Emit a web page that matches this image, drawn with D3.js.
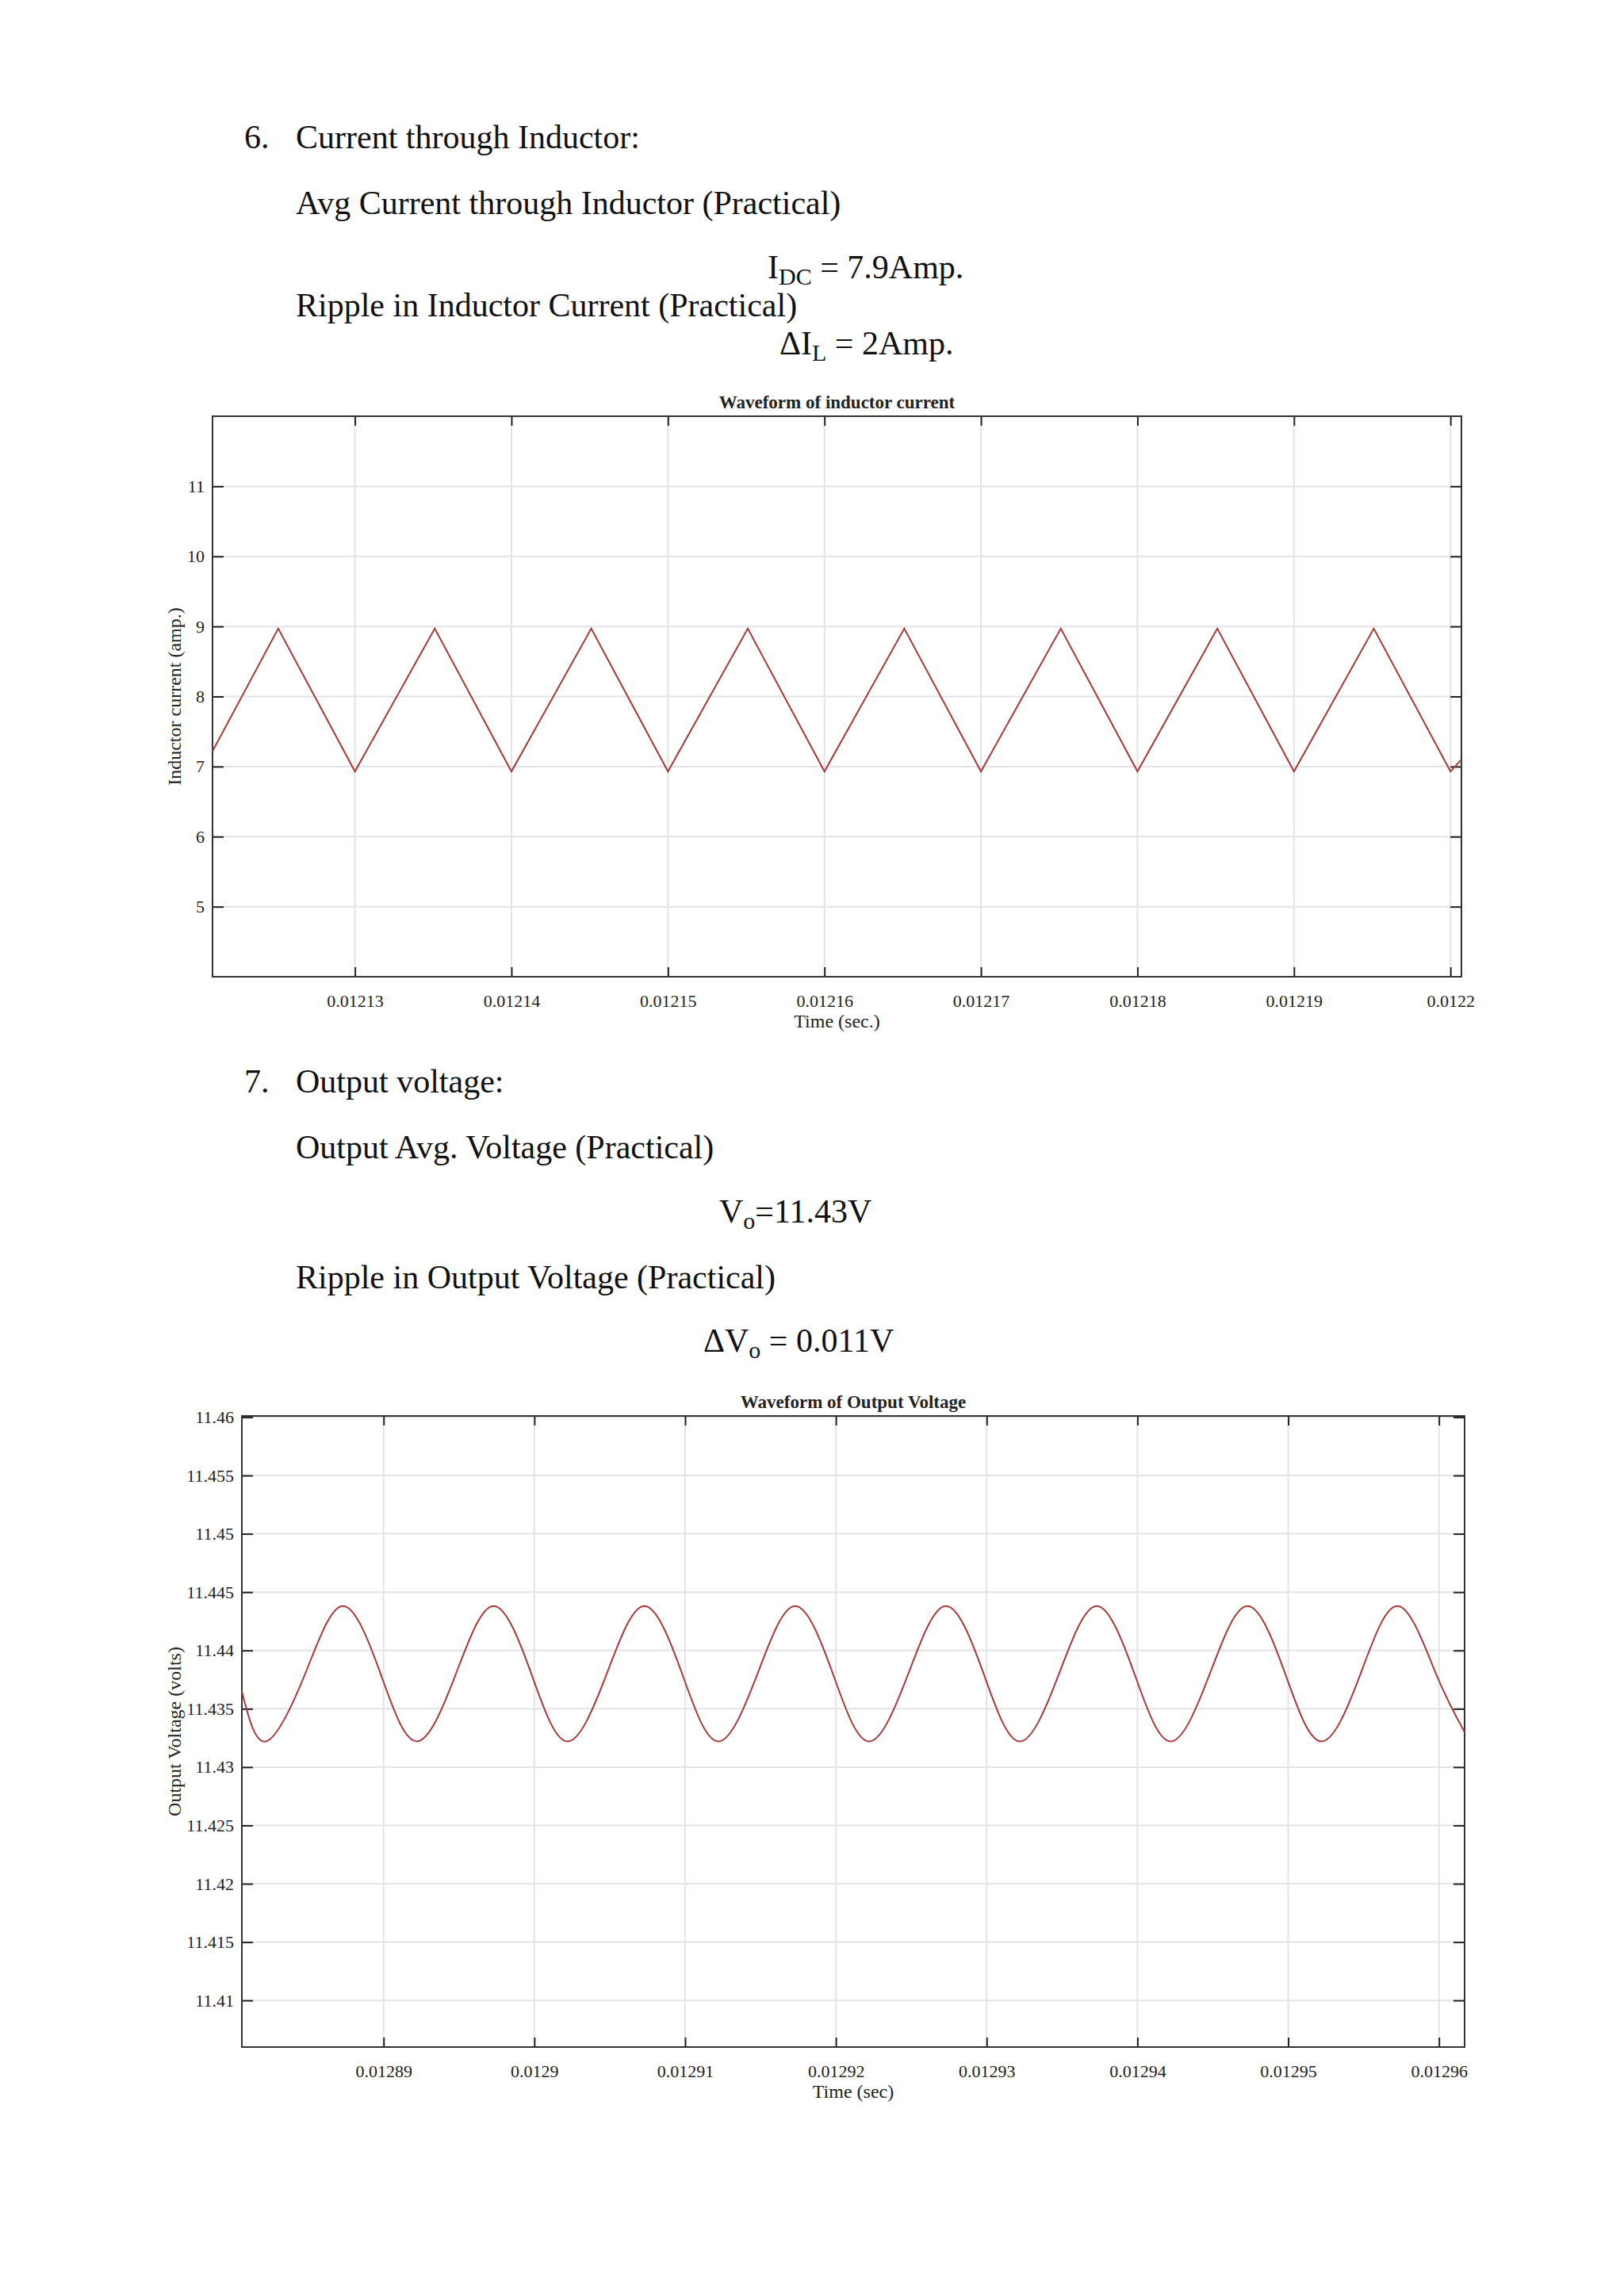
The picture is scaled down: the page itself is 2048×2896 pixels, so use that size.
<!DOCTYPE html>
<html><head><meta charset="utf-8">
<script src="https://cdn.jsdelivr.net/npm/d3@7"></script>
<style>body{margin:0;background:#fff}text{font-family:"Liberation Serif","Times New Roman",serif}</style>
</head><body>
<svg id="s" width="2048" height="2896"></svg>
<script>
// Chart 1: inductor current vertices (time s, current A)
const iTime = [0.0121209,0.0121251,0.01213,0.0121351,0.01214,0.0121451,0.01215,0.0121551,0.01216,0.0121651,0.01217,0.0121751,0.01218,0.0121851,0.01219,0.0121951,0.0122,0.0122007];
const iVal  = [7.22,8.97,6.93,8.97,6.93,8.97,6.93,8.97,6.93,8.97,6.93,8.97,6.93,8.97,6.93,8.97,6.93,7.10];
const iXTicks = [0.01213,0.01214,0.01215,0.01216,0.01217,0.01218,0.01219,0.0122];
const iXLabels = ["0.01213","0.01214","0.01215","0.01216","0.01217","0.01218","0.01219","0.0122"];
const iYTicks = [5,6,7,8,9,10,11];
// Chart 2: output voltage samples (quarter periods)
const vTime = [0.0128806,0.0128822,0.0128848,0.0128873,0.0128898,0.0128922,0.0128948,0.0128973,0.0128998,0.0129022,0.0129048,0.0129073,0.0129098,0.0129122,0.0129148,0.0129173,0.0129198,0.0129222,0.0129248,0.0129273,0.0129298,0.0129322,0.0129348,0.0129373,0.0129398,0.0129422,0.0129448,0.0129473,0.0129498,0.0129522,0.0129548,0.0129573,0.0129598,0.0129617];
const vVal  = [11.4365,11.4322,11.4380,11.4438,11.4380,11.4322,11.4380,11.4438,11.4380,11.4322,11.4380,11.4438,11.4380,11.4322,11.4380,11.4438,11.4380,11.4322,11.4380,11.4438,11.4380,11.4322,11.4380,11.4438,11.4380,11.4322,11.4380,11.4438,11.4380,11.4322,11.4380,11.4438,11.4380,11.4330];
const vXTicks = [0.01289,0.0129,0.01291,0.01292,0.01293,0.01294,0.01295,0.01296];
const vXLabels = ["0.01289","0.0129","0.01291","0.01292","0.01293","0.01294","0.01295","0.01296"];
const vYTicks = [11.41,11.415,11.42,11.425,11.43,11.435,11.44,11.445,11.45,11.455,11.46];
const vYLabels = ["11.41","11.415","11.42","11.425","11.43","11.435","11.44","11.445","11.45","11.455","11.46"];

const svg = d3.select("#s");
function txt(x,y,s,size){return svg.append("text").attr("x",x).attr("y",y).attr("font-size",size||42).attr("fill","#111").text(s);}
function sub(x,y,main,subs,rest){const t=svg.append("text").attr("x",x).attr("y",y).attr("font-size",42).attr("fill","#111");
  t.append("tspan").text(main);t.append("tspan").attr("font-size",30).attr("dy",8).text(subs);t.append("tspan").attr("dy",-8).text(rest);}

txt(308,187,"6.");txt(373,187,"Current through Inductor:");
txt(373,270,"Avg Current through Inductor (Practical)");
sub(968,351,"I","DC"," = 7.9Amp.");
txt(373,399,"Ripple in Inductor Current (Practical)");
sub(983,447,"ΔI","L"," = 2Amp.");
txt(308,1378,"7.");txt(373,1378,"Output voltage:");
txt(373,1461,"Output Avg. Voltage (Practical)");
sub(907,1542,"V","o","=11.43V");
txt(373,1625,"Ripple in Output Voltage (Practical)");
sub(887,1705,"ΔV","o"," = 0.011V");

function chart(o){
  const x=d3.scaleLinear().domain(o.xd).range([o.l,o.r]);
  const y=d3.scaleLinear().domain(o.yd).range([o.b,o.t]);
  const g=svg.append("g");
  g.append("g").selectAll("line").data(o.xt).join("line").attr("x1",d=>x(d)).attr("x2",d=>x(d)).attr("y1",o.t).attr("y2",o.b).attr("stroke","#e3e3e8").attr("stroke-width",2);
  g.append("g").selectAll("line").data(o.yt).join("line").attr("y1",d=>y(d)).attr("y2",d=>y(d)).attr("x1",o.l).attr("x2",o.r).attr("stroke","#e3e3e8").attr("stroke-width",2);
  const fmtX=(d,i)=>o.xl[i], fmtY=(d,i)=>o.yl?o.yl[i]:d3.format("d")(d);
  const ax=(gen,tr)=>{const a=g.append("g").attr("transform",tr).call(gen);a.select(".domain").remove();a.selectAll("line").attr("stroke","#222").attr("stroke-width",2);a.selectAll("text").attr("font-family","Liberation Serif").attr("font-size",22).attr("fill","#222");return a;};
  ax(d3.axisBottom(x).tickValues(o.xt).tickFormat(fmtX).tickSizeInner(-12).tickPadding(22),`translate(0,${o.b})`);
  ax(d3.axisTop(x).tickValues(o.xt).tickFormat("").tickSizeInner(-12),`translate(0,${o.t})`);
  ax(d3.axisLeft(y).tickValues(o.yt).tickFormat(fmtY).tickSizeInner(-14).tickPadding(10),`translate(${o.l},0)`);
  ax(d3.axisRight(y).tickValues(o.yt).tickFormat("").tickSizeInner(-14),`translate(${o.r},0)`);
  g.append("rect").attr("x",o.l).attr("y",o.t).attr("width",o.r-o.l).attr("height",o.b-o.t).attr("fill","none").attr("stroke","#333").attr("stroke-width",2);
  const pts=o.tx.map((t,i)=>[t,o.vy[i]]);
  g.append("path").datum(pts).attr("fill","none").attr("stroke","#a83a3a").attr("stroke-width",2)
    .attr("d",d3.line().x(d=>x(d[0])).y(d=>y(d[1])).curve(o.curve||d3.curveLinear));
  g.append("text").attr("x",(o.l+o.r)/2).attr("y",o.t-10).attr("text-anchor","middle").attr("font-size",23).attr("font-weight","bold").attr("fill","#222").text(o.title);
  g.append("text").attr("x",(o.l+o.r)/2).attr("y",o.b+64).attr("text-anchor","middle").attr("font-size",24).attr("fill","#222").text(o.xlab);
  g.append("text").attr("transform",`translate(${o.yx},${(o.t+o.b)/2}) rotate(-90)`).attr("text-anchor","middle").attr("font-size",24).attr("fill","#222").text(o.ylab);
}
chart({l:268,r:1843,t:525,b:1232,xd:[0.0121209,0.0122007],yd:[4,12],xt:iXTicks,xl:iXLabels,yt:iYTicks,tx:iTime,vy:iVal,
  title:"Waveform of inductor current",xlab:"Time (sec.)",ylab:"Inductor current (amp.)",yx:228});
chart({l:305,r:1847,t:1786,b:2582,xd:[0.0128806,0.0129617],yd:[11.406,11.4601],xt:vXTicks,xl:vXLabels,yt:vYTicks,yl:vYLabels,tx:vTime,vy:vVal,
  curve:d3.curveNatural,title:"Waveform of Output Voltage",xlab:"Time (sec)",ylab:"Output Voltage (volts)",yx:228});
</script></body></html>
